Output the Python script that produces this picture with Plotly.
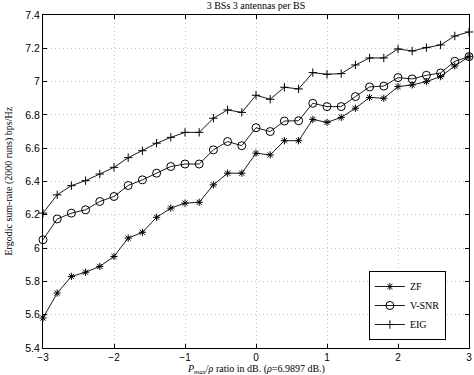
import plotly.graph_objects as go

x_vals = [round(-3 + 0.2 * i, 1) for i in range(31)]

zf = [5.58, 5.73, 5.83, 5.855, 5.89, 5.95, 6.06, 6.095, 6.185, 6.24, 6.27, 6.275,
      6.38, 6.45, 6.45, 6.57, 6.56, 6.645, 6.645, 6.773, 6.755, 6.785, 6.84, 6.905,
      6.90, 6.97, 6.98, 7.0, 7.03, 7.094, 7.15]
vsnr = [6.05, 6.175, 6.21, 6.23, 6.28, 6.31, 6.376, 6.41, 6.45, 6.49, 6.505, 6.505,
        6.59, 6.64, 6.615, 6.723, 6.70, 6.763, 6.765, 6.87, 6.85, 6.85, 6.91, 6.968,
        6.973, 7.024, 7.016, 7.038, 7.052, 7.122, 7.15]
eig = [6.21, 6.32, 6.375, 6.405, 6.445, 6.485, 6.543, 6.585, 6.63, 6.665, 6.695, 6.695,
       6.78, 6.83, 6.815, 6.918, 6.894, 6.966, 6.956, 7.054, 7.044, 7.048, 7.10, 7.142,
       7.142, 7.196, 7.184, 7.204, 7.22, 7.274, 7.298]

x_ticks = [-3, -2, -1, 0, 1, 2, 3]
x_ticktext = ["\u22123", "\u22122", "\u22121", "0", "1", "2", "3"]
y_ticks = [5.4, 5.6, 5.8, 6.0, 6.2, 6.4, 6.6, 6.8, 7.0, 7.2, 7.4]
y_ticktext = ["5.4", "5.6", "5.8", "6", "6.2", "6.4", "6.6", "6.8", "7", "7.2", "7.4"]

series = [
    ("ZF", zf, "asterisk-open", 6),
    ("V-SNR", vsnr, "circle-open", 8),
    ("EIG", eig, "cross-thin-open", 6),
]

fig = go.Figure()
for name, ys, sym, size in series:
    fig.add_trace(go.Scatter(
        x=x_vals, y=ys, name=name, mode="lines+markers",
        line=dict(color="black", width=0.9),
        marker=dict(symbol=sym, size=size, color="black",
                    line=dict(color="black", width=1)),
        cliponaxis=False,
    ))

serif = "Liberation Serif, Times New Roman, serif"
sans = "Liberation Sans, Arial, sans-serif"

fig.update_layout(
    width=474, height=375,
    margin=dict(l=43, r=5, t=15, b=27, autoexpand=False),
    paper_bgcolor="white", plot_bgcolor="white",
    showlegend=True,
    title=dict(text="3 BSs 3 antennas per BS", font=dict(family=serif, size=10, color="black"),
               xref="paper", x=0.5, xanchor="center", y=0.995, yanchor="top"),
    legend=dict(x=0.765, y=0.024, xanchor="left", yanchor="bottom",
                bordercolor="black", borderwidth=1, bgcolor="white",
                font=dict(family=serif, size=10, color="black"),
                tracegroupgap=0, itemwidth=30),
    xaxis=dict(range=[-3, 3], tickvals=x_ticks, ticktext=x_ticktext, automargin=False,
               showgrid=True, gridcolor="#c4c4c4", griddash="1px,3px", gridwidth=1,
               zeroline=False, showline=True, linecolor="black", linewidth=1, mirror="ticks",
               ticks="inside", ticklen=4, tickcolor="black",
               tickfont=dict(family=sans, size=10, color="black")),
    yaxis=dict(range=[5.4, 7.4], tickvals=y_ticks, ticktext=y_ticktext, automargin=False,
               showgrid=True, gridcolor="#c4c4c4", griddash="1px,3px", gridwidth=1,
               zeroline=False, showline=True, linecolor="black", linewidth=1, mirror="ticks",
               ticks="inside", ticklen=4, tickcolor="black",
               tickfont=dict(family=sans, size=10.5, color="black")),
    annotations=[
        dict(text="<i>P<sub>max</sub></i>/<i>ρ</i> ratio in dB. (<i>ρ</i>=6.9897 dB.)",
             xref="paper", yref="paper", x=0.5, y=-0.065, xanchor="center", yanchor="middle",
             showarrow=False, font=dict(family=serif, size=10, color="black")),
        dict(text="Ergodic sum-rate (2000 runs) bps/Hz",
             xref="paper", yref="paper", x=-0.082, y=0.5, xanchor="center", yanchor="middle",
             textangle=-90, showarrow=False, font=dict(family=serif, size=10, color="black")),
    ],
)

fig.write_html("out.html", config={"displayModeBar": False},
               post_script="document.body.style.margin='0px';document.body.style.overflow='hidden';")
